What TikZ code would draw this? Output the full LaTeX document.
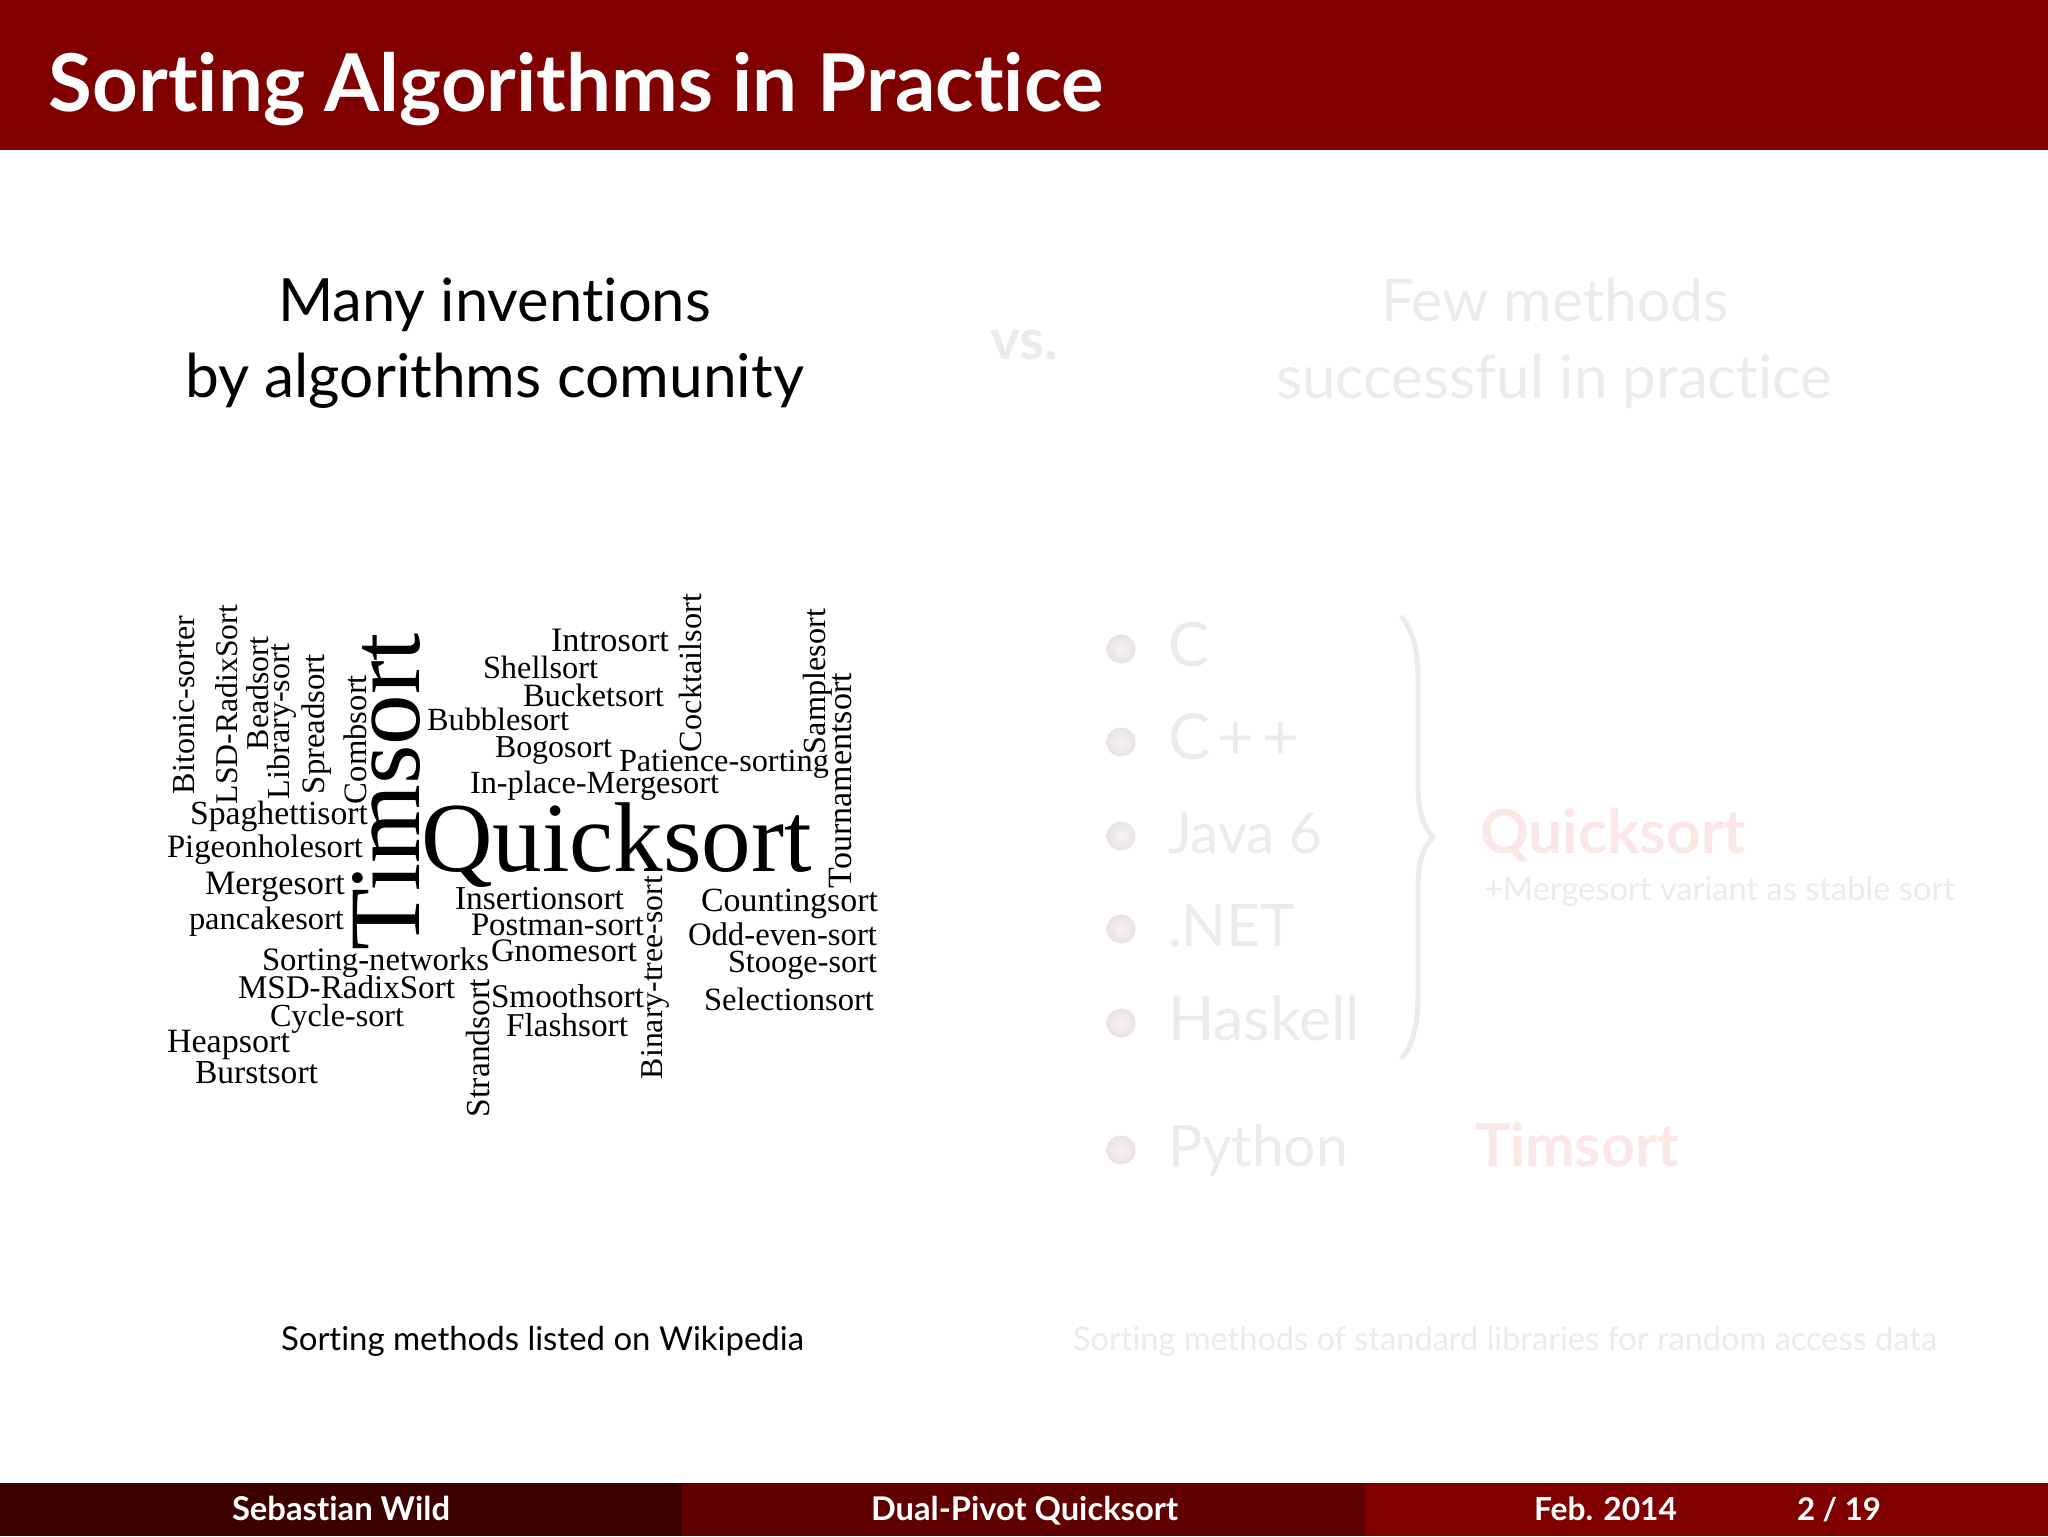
\documentclass[tikz,border=0pt]{standalone}
\usepackage{fontspec}
\setmainfont{Lato}[Ligatures=NoCommon]
\newfontfamily\cloudfont{Liberation Serif}
\definecolor{barred}{HTML}{800000}
\definecolor{midred}{HTML}{600000}
\definecolor{darkred}{HTML}{3C0000}
\definecolor{paletext}{HTML}{ECEAEC}
\definecolor{palered}{HTML}{FCE7E7}
\definecolor{paleball}{HTML}{E9E2E2}
\newlength{\pxlen}
\setlength{\pxlen}{.1mm}
\newcommand{\fitw}[2]{\resizebox{#1\pxlen}{!}{#2}}
\tikzset{
   txt/.style={anchor=base west,inner sep=0pt,outer sep=0pt},
   word/.style={txt,font=\cloudfont,text=black},
   pale/.style={txt,text=paletext},
   palebold/.style={txt,text=palered,font=\bfseries},
   foot/.style={txt,text=white,font=\bfseries},
   ballnode/.style={circle,minimum size=29\pxlen,inner sep=0pt,shade,inner color=paleball!35,outer color=paleball}
}

\begin{document}
\begin{tikzpicture}[x=.1mm,y=-.1mm]

   \useasboundingbox (0,0) rectangle (2048,1536);
   
   % header and footer bars
   \fill[barred] (0,0) rectangle (2048,150);
   \fill[darkred] (0,1483) rectangle (682,1536);
   \fill[midred] (682,1483) rectangle (1365,1536);
   \fill[barred] (1365,1483) rectangle (2048,1536);
   
   \node[txt,text=white,font=\bfseries] (title) at (49,111) {\fitw{1055}{Sorting Algorithms in Practice}};
   
   \node[foot] (author) at (232,1520) {\fitw{218}{Sebastian Wild}};
   \node[foot] (talk) at (871,1520) {\fitw{307}{Dual-Pivot Quicksort}};
   \node[foot] (date) at (1534,1520) {\fitw{143}{Feb. 2014}};
   \node[foot] (page) at (1797,1520) {\fitw{84}{2 / 19}};
   
   % left column
   \node[txt] (many) at (278,321) {\fitw{433}{Many inventions}};
   \node[txt] (comunity) at (185,397) {\fitw{619}{by algorithms comunity}};
   \node[txt] (listed) at (281,1350) {\fitw{523}{Sorting methods listed on Wikipedia}};
   
   \foreach \x/\y/\w/\txt [count=\i] in {
      551/651/118/Introsort, 483/678/115/Shellsort, 523/706/141/Bucketsort,
      427/730/142/Bubblesort, 495/757/117/Bogosort, 619/771/210/Patience-sorting,
      470/793/249/In-place-Mergesort, 455/909/169/Insertionsort, 471/935/173/Postman-sort,
      491/961/146/Gnomesort, 262/970/227/Sorting-networks, 701/911/177/Countingsort,
      688/945/189/Odd-even-sort, 728/972/149/Stooge-sort, 704/1010/170/Selectionsort,
      491/1007/153/Smoothsort, 506/1036/122/Flashsort, 190/824/178/Spaghettisort,
      167/857/196/Pigeonholesort, 205/894/140/Mergesort, 189/929/155/pancakesort,
      238/998/217/MSD-RadixSort, 270/1026/134/Cycle-sort, 167/1052/123/Heapsort,
      195/1083/123/Burstsort, 421/871/391/Quicksort} {
      \node[word] (hword\i) at (\x,\y) {\fitw{\w}{\txt}};
   }
   
   \foreach \x/\y/\w/\txt [count=\i] in {
      194/794/178/Bitonic-sorter, 237/804/199/LSD-RadixSort, 268/750/113/Beadsort,
      289/799/155/Library-sort, 324/794/140/Spreadsort, 366/804/129/Combsort,
      419/950/317/Timsort, 489/1117/138/Strandsort, 701/752/158/Cocktailsort,
      825/754/145/Samplesort, 851/888/215/Tournamentsort, 662/1079/203/Binary-tree-sort} {
      \node[word,rotate=90] (vword\i) at (\x,\y) {\fitw{\w}{\txt}};
   }
   
   % faded right column
   \node[txt,text=paletext,font=\bfseries] (versus) at (990,359) {\fitw{68}{vs.}};
   \node[pale] (few) at (1381,321) {\fitw{348}{Few methods}};
   \node[pale] (practice) at (1276,398) {\fitw{556}{successful in practice}};
   \node[pale] (stdlib) at (1073,1350) {\fitw{864}{Sorting methods of standard libraries for random access data}};
   
   \foreach \y/\x/\w/\txt [count=\i] in {
      649/666/41/C, 742/759/131/C\kern.12em+\kern.12em+, 836/853/154/Java 6,
      929/946/127/.NET, 1023/1040/192/Haskell, 1150/1166/180/Python} {
      \node[ballnode] (ball\i) at (1121,\y) {};
      \node[pale] (lang\i) at (1168,\x) {\fitw{\w}{\txt}};
   }
   
   \draw[paletext,line width=5\pxlen] (1401,616) .. controls (1413,630) and (1418,650) .. (1418,680)
      -- (1418,785) .. controls (1418,810) and (1422,825) .. (1433,837)
      .. controls (1422,849) and (1418,864) .. (1418,889)
      -- (1418,995) .. controls (1418,1025) and (1413,1045) .. (1401,1059);
   
   \node[palebold] (qsort) at (1480,853) {\fitw{266}{Quicksort}};
   \node[pale] (merge) at (1484,900) {\fitw{471}{+Mergesort variant as stable sort}};
   \node[palebold] (tsort) at (1475,1166) {\fitw{204}{Timsort}};
   
\end{tikzpicture}
\end{document}
